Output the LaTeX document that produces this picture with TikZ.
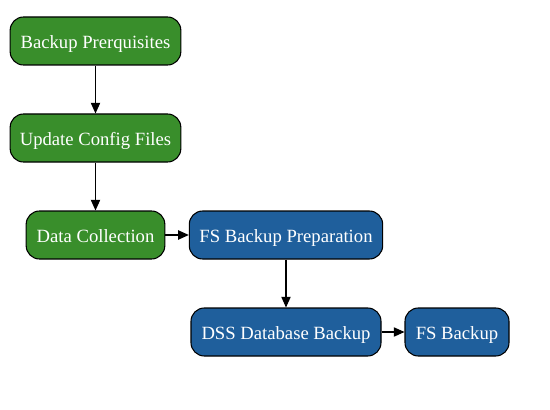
\documentclass[tikz,border=0pt]{standalone}
\usepackage{fontspec}
\setmainfont{Liberation Serif}
\usetikzlibrary{arrows.meta}
\definecolor{gfill}{HTML}{398E2B}
\definecolor{bfill}{HTML}{1F5F9C}
\tikzset{
  box/.style={draw=black, line width=0.8pt, rounded corners=10pt, text=white,
    font=\fontsize{14pt}{16pt}\selectfont, inner sep=0pt, minimum height=36pt,
    text depth=0pt, text height=11pt},
  gbox/.style={box, fill=gfill},
  bbox/.style={box, fill=bfill},
  conn/.style={draw=black, line width=0.8pt, -{Triangle[length=8pt, width=7pt]}}
}
\begin{document}
\begin{tikzpicture}[x=0.75pt, y=-0.75pt]
\useasboundingbox (0,0) rectangle (550,410);
\node[gbox, minimum width=128pt] (a) at (95.5,41) {Backup Prerquisites};
\node[gbox, minimum width=128pt] (b) at (95.5,138) {Update Config Files};
\node[gbox, minimum width=104pt] (c) at (95.5,235) {Data Collection};
\node[bbox, minimum width=145pt] (d) at (286,235) {FS Backup Preparation};
\node[bbox, minimum width=142.5pt] (e) at (286,332) {DSS Database Backup};
\node[bbox, minimum width=78pt] (f) at (457,332) {FS Backup};
\draw[conn] (a) -- (b);
\draw[conn] (b) -- (c);
\draw[conn] (c) -- (d);
\draw[conn] (d) -- (e);
\draw[conn] (e) -- (f);
\end{tikzpicture}
\end{document}
